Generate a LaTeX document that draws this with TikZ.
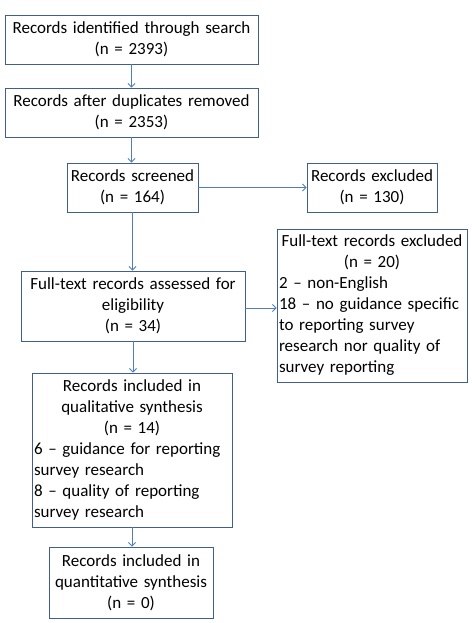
\documentclass[tikz,border=0pt]{standalone}
\usepackage{fontspec}
\setmainfont{Carlito}
\usetikzlibrary{arrows.meta}
\definecolor{boxline}{HTML}{3F5F8E}
\definecolor{arrowline}{HTML}{4F7FBA}
\tikzset{
  box/.style={draw=boxline, line width=0.9pt, rectangle, inner xsep=2pt, inner ysep=0pt,
    font=\fontsize{17}{21}\selectfont, anchor=center},
  conn/.style={draw=arrowline, line width=0.9pt, -{Straight Barb[length=3.5pt,width=7pt]}}
}
\begin{document}
\begin{tikzpicture}[x=1pt,y=-1pt]
\useasboundingbox (0,0) rectangle (471,623);
\node[box, minimum width=253pt, minimum height=49pt, text width=249pt, align=center] (b1) at (131.5,39.5) {Records identified through search\\(n = 2393)};
\node[box, minimum width=253pt, minimum height=49pt, text width=249pt, align=center] (b2) at (131.5,112.5) {Records after duplicates removed\\(n = 2353)};
\node[box, minimum width=131pt, minimum height=49pt, text width=127pt, align=center] (b3) at (132.5,187.5) {Records screened\\(n = 164)};
\node[box, minimum width=130pt, minimum height=49pt, text width=126pt, align=center] (b4) at (372,187.5) {Records excluded\\(n = 130)};
\node[box, minimum width=224pt, minimum height=70pt, text width=220pt, align=center] (b5) at (133,306) {Full-text records assessed for\\eligibility\\(n = 34)};
\node[box, minimum width=190pt, minimum height=153pt, text width=186pt] (b6) at (372,305.5) {\centering Full-text records excluded\\(n = 20)\par\raggedright 2 -- non-English\\18 -- no guidance specific\\to reporting survey\\research nor quality of\\survey reporting\par};
\node[box, minimum width=200pt, minimum height=154pt, text width=196pt] (b7) at (132,450) {\centering Records included in\\qualitative synthesis\\(n = 14)\par\raggedright 6 -- guidance for reporting\\survey research\\8 -- quality of reporting\\survey research\par};
\node[box, minimum width=164pt, minimum height=71pt, text width=160pt, align=center] (b8) at (131,582.5) {Records included in\\quantitative synthesis\\(n = 0)};
\draw[conn] (b1.south) -- (b1.south |- b2.north);
\draw[conn] (b2.south) -- (b2.south |- b3.north);
\draw[conn] (b3.south) -- (b3.south |- b5.north);
\draw[conn] (b5.south) -- (b5.south |- b7.north);
\draw[conn] (b7.south) -- (b7.south |- b8.north);
\draw[conn] (b3.east) -- (b3.east -| b4.west);
\draw[conn] ([yshift=-2pt]b5.east) -- ([yshift=-2pt]b5.east -| b6.west);
\end{tikzpicture}
\end{document}
